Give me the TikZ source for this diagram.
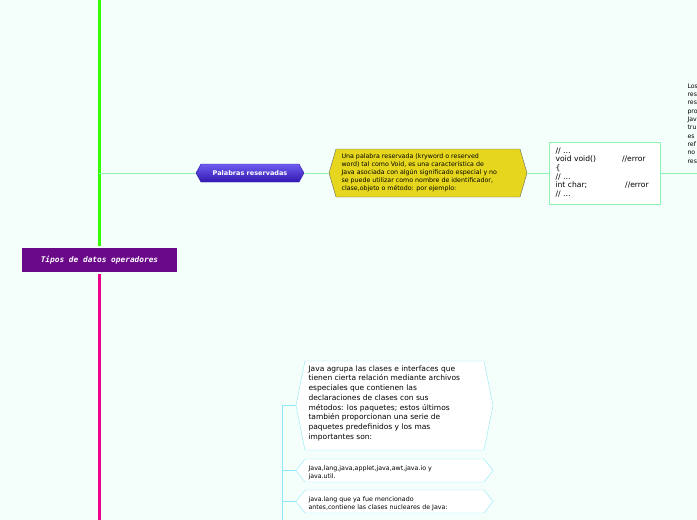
\documentclass[tikz,border=0pt]{standalone}
\usepackage{fontspec}
\setmainfont{DejaVu Sans}
\newfontfamily\monof{DejaVu Sans Mono}
\usetikzlibrary{shapes.misc}
\definecolor{bg}{HTML}{F4FFFB}
\definecolor{lgreen}{HTML}{8CF5B4}
\definecolor{cyanl}{HTML}{8EE8F5}
\definecolor{purp}{HTML}{6B0A89}
\definecolor{ylw}{HTML}{E6D71E}
\definecolor{btop}{HTML}{6F5CF0}
\definecolor{bbot}{HTML}{3318B0}
\begin{document}
\begin{tikzpicture}[x=1pt,y=-1pt,
  con/.style={draw=lgreen, line width=0.8pt},
  ccon/.style={draw=cyanl, line width=0.8pt},
  small/.style={font=\fontsize{6.3}{8}\selectfont, align=left, anchor=north west}]
\fill[bg] (0,0) rectangle (697,520);
\useasboundingbox (0,0) rectangle (697,520);
% trunk
\draw[line width=3pt, draw=green!80!yellow] (99,0) -- (99,246);
\draw[line width=3pt, draw=magenta] (99,274) -- (99,520);
\node[fill=purp, minimum width=155pt, minimum height=24pt, inner sep=0pt, text=white, font=\monof\itshape\bfseries\fontsize{7.8}{9}\selectfont] (root) at (99.5,260) {Tipos de datos operadores};
% Palabras reservadas
\coordinate (j1) at (99,173);
\path[top color=btop, bottom color=bbot, draw=bbot]
  (196,173) -- (201,164) -- (299,164) -- (304,173) -- (299,182) -- (201,182) -- cycle;
\node[text=white, font=\bfseries\fontsize{6.5}{8}\selectfont] (pal) at (250,173) {Palabras reservadas};
\draw[con] (j1) -- (196,173);
% yellow
\path[fill=ylw, draw=black!60] (329,173) -- (336,149) -- (520,149) -- (527,173) -- (520,197) -- (336,197) -- cycle;
\node[small, font=\fontsize{6.3}{8}\selectfont] (def) at (338,150) {Una palabra reservada (kryword o reserved\\word) tal como Void, es una característica de\\Java asociada con algún significado especial y no\\se puede utilizar como nombre de identificador,\\clase,objeto o método: por ejemplo:};
\draw[con] (304,173) -- (329,173);
\draw[con] (527,173) -- (549,173);
% code box
\node[draw=lgreen, fill=white, minimum width=111pt, minimum height=62pt, anchor=north west, inner sep=0pt] (code) at (549,142) {};
\node[small, font=\fontsize{7.6}{8.7}\selectfont] at (552,144) {// …\\void void()\hspace{26pt}//error\\\{\\// …\\int char;\hspace{38pt}//error\\// …};
\draw[con] (660,173) -- (697,173);
\node[small, font=\fontsize{6.2}{8.35}\selectfont] (los) at (684,80) {Los\\res\\res\\pro\\Jav\\tru\\es\\ref\\no\\res};
% lower branch
\draw[ccon] (282,405) -- (282,520);
\path[fill=white, draw=cyanl] (296,405.5) -- (305,361) -- (484,361) -- (493,405.5) -- (484,450) -- (305,450) -- cycle;
\node[small, font=\fontsize{7.5}{9.7}\selectfont] (n1) at (305,362) {Java agrupa las clases e interfaces que\\tienen cierta relación mediante archivos\\especiales que contienen las\\declaraciones de clases con sus\\métodos: los paquetes; estos últimos\\también proporcionan una serie de\\paquetes predefinidos y los mas\\importantes son:};
\path[fill=white, draw=cyanl] (296,470.5) -- (305,459) -- (484,459) -- (493,470.5) -- (484,482) -- (305,482) -- cycle;
\node[small, font=\fontsize{6.3}{8}\selectfont] (n2) at (305,462) {Java,lang,java,applet,java,awt,java.io y\\java.util.};
\path[fill=white, draw=cyanl] (296,501.5) -- (305,490) -- (484,490) -- (493,501.5) -- (484,513) -- (305,513) -- cycle;
\node[small, font=\fontsize{6.3}{8}\selectfont] (n3) at (305,493) {java.lang que ya fue mencionado\\antes,contiene las clases nucleares de Java:};
\draw[ccon] (282,405.5) -- (296,405.5);
\draw[ccon] (282,470.5) -- (296,470.5);
\draw[ccon] (282,501.5) -- (296,501.5);
\end{tikzpicture}
\end{document}
